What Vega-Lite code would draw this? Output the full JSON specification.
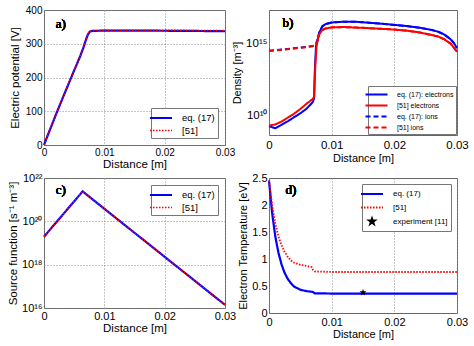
{
  "$schema": "https://vega.github.io/schema/vega-lite/v6.json",
  "background": "white",
  "padding": {"left": 6, "top": 4, "right": 0, "bottom": 0},
  "datasets": {
    "potential": [
      {"x": 0, "v": 0, "s": "eq. (17)"},
      {"x": 0.001, "v": 46, "s": "eq. (17)"},
      {"x": 0.002, "v": 91, "s": "eq. (17)"},
      {"x": 0.003, "v": 135, "s": "eq. (17)"},
      {"x": 0.004, "v": 178, "s": "eq. (17)"},
      {"x": 0.005, "v": 221, "s": "eq. (17)"},
      {"x": 0.006, "v": 263, "s": "eq. (17)"},
      {"x": 0.0065, "v": 287, "s": "eq. (17)"},
      {"x": 0.007, "v": 314, "s": "eq. (17)"},
      {"x": 0.0073, "v": 328, "s": "eq. (17)"},
      {"x": 0.0076, "v": 336, "s": "eq. (17)"},
      {"x": 0.008, "v": 338, "s": "eq. (17)"},
      {"x": 0.01, "v": 339, "s": "eq. (17)"},
      {"x": 0.015, "v": 339, "s": "eq. (17)"},
      {"x": 0.02, "v": 338.5, "s": "eq. (17)"},
      {"x": 0.025, "v": 338, "s": "eq. (17)"},
      {"x": 0.03, "v": 337, "s": "eq. (17)"},
      {"x": 0, "v": 0, "s": "[51]"},
      {"x": 0.001, "v": 47, "s": "[51]"},
      {"x": 0.002, "v": 92, "s": "[51]"},
      {"x": 0.003, "v": 136, "s": "[51]"},
      {"x": 0.004, "v": 179, "s": "[51]"},
      {"x": 0.005, "v": 222, "s": "[51]"},
      {"x": 0.006, "v": 264, "s": "[51]"},
      {"x": 0.0065, "v": 289, "s": "[51]"},
      {"x": 0.007, "v": 316, "s": "[51]"},
      {"x": 0.0073, "v": 330, "s": "[51]"},
      {"x": 0.0076, "v": 337, "s": "[51]"},
      {"x": 0.008, "v": 339, "s": "[51]"},
      {"x": 0.01, "v": 340, "s": "[51]"},
      {"x": 0.02, "v": 340, "s": "[51]"},
      {"x": 0.03, "v": 339, "s": "[51]"}
    ],
    "density": [
      {"x": 0, "n": 2.95e14, "s": "eq. (17): ions"},
      {"x": 0.002, "n": 3.55e14, "s": "eq. (17): ions"},
      {"x": 0.004, "n": 4.37e14, "s": "eq. (17): ions"},
      {"x": 0.006, "n": 5.37e14, "s": "eq. (17): ions"},
      {"x": 0.007, "n": 6.31e14, "s": "eq. (17): ions"},
      {"x": 0.0073, "n": 7.08e14, "s": "eq. (17): ions"},
      {"x": 0.0075, "n": 8.9e14, "s": "eq. (17): ions"},
      {"x": 0.0078, "n": 2.0e15, "s": "eq. (17): ions"},
      {"x": 0.008, "n": 5.0e15, "s": "eq. (17): ions"},
      {"x": 0.0085, "n": 1.41e16, "s": "eq. (17): ions"},
      {"x": 0.009, "n": 2.0e16, "s": "eq. (17): ions"},
      {"x": 0.01, "n": 2.63e16, "s": "eq. (17): ions"},
      {"x": 0.012, "n": 2.95e16, "s": "eq. (17): ions"},
      {"x": 0.014, "n": 2.88e16, "s": "eq. (17): ions"},
      {"x": 0.016, "n": 2.51e16, "s": "eq. (17): ions"},
      {"x": 0.018, "n": 2.14e16, "s": "eq. (17): ions"},
      {"x": 0.02, "n": 1.78e16, "s": "eq. (17): ions"},
      {"x": 0.022, "n": 1.48e16, "s": "eq. (17): ions"},
      {"x": 0.024, "n": 1.15e16, "s": "eq. (17): ions"},
      {"x": 0.026, "n": 7.9e15, "s": "eq. (17): ions"},
      {"x": 0.027, "n": 6.0e15, "s": "eq. (17): ions"},
      {"x": 0.028, "n": 3.8e15, "s": "eq. (17): ions"},
      {"x": 0.029, "n": 1.78e15, "s": "eq. (17): ions"},
      {"x": 0.0295, "n": 1.0e15, "s": "eq. (17): ions"},
      {"x": 0.03, "n": 4.5e14, "s": "eq. (17): ions"},
      {"x": 0, "n": 2.82e14, "s": "[51] ions"},
      {"x": 0.002, "n": 3.39e14, "s": "[51] ions"},
      {"x": 0.004, "n": 4.17e14, "s": "[51] ions"},
      {"x": 0.006, "n": 5.25e14, "s": "[51] ions"},
      {"x": 0.007, "n": 6.17e14, "s": "[51] ions"},
      {"x": 0.0073, "n": 6.76e14, "s": "[51] ions"},
      {"x": 0.0076, "n": 7.94e14, "s": "[51] ions"},
      {"x": 0.008, "n": 4.0e15, "s": "[51] ions"},
      {"x": 0.0085, "n": 7.9e15, "s": "[51] ions"},
      {"x": 0.009, "n": 1.0e16, "s": "[51] ions"},
      {"x": 0.01, "n": 1.2e16, "s": "[51] ions"},
      {"x": 0.012, "n": 1.26e16, "s": "[51] ions"},
      {"x": 0.015, "n": 1.12e16, "s": "[51] ions"},
      {"x": 0.018, "n": 9.5e15, "s": "[51] ions"},
      {"x": 0.02, "n": 8.5e15, "s": "[51] ions"},
      {"x": 0.022, "n": 7.1e15, "s": "[51] ions"},
      {"x": 0.024, "n": 5.4e15, "s": "[51] ions"},
      {"x": 0.026, "n": 3.55e15, "s": "[51] ions"},
      {"x": 0.027, "n": 2.8e15, "s": "[51] ions"},
      {"x": 0.028, "n": 1.78e15, "s": "[51] ions"},
      {"x": 0.029, "n": 8.9e14, "s": "[51] ions"},
      {"x": 0.03, "n": 2.5e14, "s": "[51] ions"},
      {"x": 0, "n": 1.82e9, "s": "eq. (17): electrons"},
      {"x": 0.001, "n": 1.32e9, "s": "eq. (17): electrons"},
      {"x": 0.002, "n": 2.24e9, "s": "eq. (17): electrons"},
      {"x": 0.003, "n": 3.98e9, "s": "eq. (17): electrons"},
      {"x": 0.004, "n": 7.6e9, "s": "eq. (17): electrons"},
      {"x": 0.005, "n": 1.41e10, "s": "eq. (17): electrons"},
      {"x": 0.006, "n": 2.95e10, "s": "eq. (17): electrons"},
      {"x": 0.007, "n": 8.5e10, "s": "eq. (17): electrons"},
      {"x": 0.0072, "n": 1.58e11, "s": "eq. (17): electrons"},
      {"x": 0.0073, "n": 1.0e13, "s": "eq. (17): electrons"},
      {"x": 0.0075, "n": 6.3e14, "s": "eq. (17): electrons"},
      {"x": 0.0078, "n": 2.0e15, "s": "eq. (17): electrons"},
      {"x": 0.008, "n": 5.0e15, "s": "eq. (17): electrons"},
      {"x": 0.0085, "n": 1.41e16, "s": "eq. (17): electrons"},
      {"x": 0.009, "n": 2.0e16, "s": "eq. (17): electrons"},
      {"x": 0.01, "n": 2.63e16, "s": "eq. (17): electrons"},
      {"x": 0.012, "n": 2.95e16, "s": "eq. (17): electrons"},
      {"x": 0.014, "n": 2.88e16, "s": "eq. (17): electrons"},
      {"x": 0.016, "n": 2.51e16, "s": "eq. (17): electrons"},
      {"x": 0.018, "n": 2.14e16, "s": "eq. (17): electrons"},
      {"x": 0.02, "n": 1.78e16, "s": "eq. (17): electrons"},
      {"x": 0.022, "n": 1.48e16, "s": "eq. (17): electrons"},
      {"x": 0.024, "n": 1.15e16, "s": "eq. (17): electrons"},
      {"x": 0.026, "n": 7.9e15, "s": "eq. (17): electrons"},
      {"x": 0.027, "n": 6.0e15, "s": "eq. (17): electrons"},
      {"x": 0.028, "n": 3.8e15, "s": "eq. (17): electrons"},
      {"x": 0.029, "n": 1.78e15, "s": "eq. (17): electrons"},
      {"x": 0.0295, "n": 1.0e15, "s": "eq. (17): electrons"},
      {"x": 0.03, "n": 4.5e14, "s": "eq. (17): electrons"},
      {"x": 0, "n": 2.0e9, "s": "[51] electrons"},
      {"x": 0.001, "n": 2.4e9, "s": "[51] electrons"},
      {"x": 0.002, "n": 3.8e9, "s": "[51] electrons"},
      {"x": 0.003, "n": 7.1e9, "s": "[51] electrons"},
      {"x": 0.004, "n": 1.32e10, "s": "[51] electrons"},
      {"x": 0.005, "n": 2.82e10, "s": "[51] electrons"},
      {"x": 0.006, "n": 6.5e10, "s": "[51] electrons"},
      {"x": 0.007, "n": 1.41e11, "s": "[51] electrons"},
      {"x": 0.0072, "n": 2.0e11, "s": "[51] electrons"},
      {"x": 0.0074, "n": 3.2e13, "s": "[51] electrons"},
      {"x": 0.0076, "n": 7.9e14, "s": "[51] electrons"},
      {"x": 0.008, "n": 4.0e15, "s": "[51] electrons"},
      {"x": 0.0085, "n": 7.9e15, "s": "[51] electrons"},
      {"x": 0.009, "n": 1.0e16, "s": "[51] electrons"},
      {"x": 0.01, "n": 1.2e16, "s": "[51] electrons"},
      {"x": 0.012, "n": 1.26e16, "s": "[51] electrons"},
      {"x": 0.015, "n": 1.12e16, "s": "[51] electrons"},
      {"x": 0.018, "n": 9.5e15, "s": "[51] electrons"},
      {"x": 0.02, "n": 8.5e15, "s": "[51] electrons"},
      {"x": 0.022, "n": 7.1e15, "s": "[51] electrons"},
      {"x": 0.024, "n": 5.4e15, "s": "[51] electrons"},
      {"x": 0.026, "n": 3.55e15, "s": "[51] electrons"},
      {"x": 0.027, "n": 2.8e15, "s": "[51] electrons"},
      {"x": 0.028, "n": 1.78e15, "s": "[51] electrons"},
      {"x": 0.029, "n": 8.9e14, "s": "[51] electrons"},
      {"x": 0.03, "n": 2.5e14, "s": "[51] electrons"}
    ],
    "source": [
      {"x": 0, "q": 1.95e19, "s": "eq. (17)"},
      {"x": 0.0064, "q": 2.4e21, "s": "eq. (17)"},
      {"x": 0.01, "q": 3.8e20, "s": "eq. (17)"},
      {"x": 0.02, "q": 2.3e18, "s": "eq. (17)"},
      {"x": 0.03, "q": 1.4e16, "s": "eq. (17)"},
      {"x": 0, "q": 1.95e19, "s": "[51]"},
      {"x": 0.0064, "q": 2.4e21, "s": "[51]"},
      {"x": 0.01, "q": 3.8e20, "s": "[51]"},
      {"x": 0.02, "q": 2.3e18, "s": "[51]"},
      {"x": 0.03, "q": 1.4e16, "s": "[51]"}
    ],
    "temperature": [
      {"x": 0, "t": 2.45, "s": "eq. (17)"},
      {"x": 0.0005, "t": 1.85, "s": "eq. (17)"},
      {"x": 0.001, "t": 1.42, "s": "eq. (17)"},
      {"x": 0.0015, "t": 1.12, "s": "eq. (17)"},
      {"x": 0.002, "t": 0.9, "s": "eq. (17)"},
      {"x": 0.0025, "t": 0.74, "s": "eq. (17)"},
      {"x": 0.003, "t": 0.63, "s": "eq. (17)"},
      {"x": 0.0035, "t": 0.55, "s": "eq. (17)"},
      {"x": 0.004, "t": 0.49, "s": "eq. (17)"},
      {"x": 0.005, "t": 0.43, "s": "eq. (17)"},
      {"x": 0.006, "t": 0.405, "s": "eq. (17)"},
      {"x": 0.007, "t": 0.39, "s": "eq. (17)"},
      {"x": 0.0073, "t": 0.365, "s": "eq. (17)"},
      {"x": 0.01, "t": 0.36, "s": "eq. (17)"},
      {"x": 0.02, "t": 0.36, "s": "eq. (17)"},
      {"x": 0.03, "t": 0.36, "s": "eq. (17)"},
      {"x": 0, "t": 2.45, "s": "[51]"},
      {"x": 0.0005, "t": 2.0, "s": "[51]"},
      {"x": 0.001, "t": 1.66, "s": "[51]"},
      {"x": 0.0015, "t": 1.42, "s": "[51]"},
      {"x": 0.002, "t": 1.25, "s": "[51]"},
      {"x": 0.0025, "t": 1.13, "s": "[51]"},
      {"x": 0.003, "t": 1.04, "s": "[51]"},
      {"x": 0.0035, "t": 0.97, "s": "[51]"},
      {"x": 0.004, "t": 0.93, "s": "[51]"},
      {"x": 0.005, "t": 0.89, "s": "[51]"},
      {"x": 0.006, "t": 0.87, "s": "[51]"},
      {"x": 0.0068, "t": 0.85, "s": "[51]"},
      {"x": 0.007, "t": 0.8, "s": "[51]"},
      {"x": 0.0073, "t": 0.77, "s": "[51]"},
      {"x": 0.01, "t": 0.76, "s": "[51]"},
      {"x": 0.02, "t": 0.76, "s": "[51]"},
      {"x": 0.03, "t": 0.76, "s": "[51]"}
    ],
    "experiment": [
      {"x": 0.015, "t": 0.38, "s": "experiment [11]"}
    ]
  },
  "columns": 2,
  "bounds": "flush",
  "align": "each",
  "spacing": {"row": 33, "column": 44},
  "resolve": {
    "scale": {"x": "independent", "y": "independent", "color": "independent", "strokeDash": "independent", "strokeWidth": "independent", "shape": "independent"},
    "legend": {"color": "independent", "strokeDash": "independent", "shape": "independent"}
  },
  "concat": [
    {
      "width": 181,
      "height": 135,
      "layer": [
        {
          "data": {"name": "potential"},
          "mark": {"type": "line"},
          "encoding": {
            "x": {"field": "x", "type": "quantitative", "scale": {"domain": [0, 0.03], "nice": false},
                  "axis": {"values": [0, 0.01, 0.02, 0.03], "format": "~g", "labelOverlap": false, "title": "Distance [m]", "labelFontSize": 10, "titleFontSize": 11.5, "titlePadding": 1}},
            "y": {"field": "v", "type": "quantitative", "scale": {"domain": [0, 400], "nice": false},
                  "axis": {"tickCount": 5, "labelOverlap": false, "title": "Electric potential [V]", "labelFontSize": 10, "titleFontSize": 11.5, "titlePadding": 5}},
            "color": {"field": "s", "type": "nominal", "scale": {"domain": ["eq. (17)", "[51]"], "range": ["#0000ff", "#ff0000"]},
                      "legend": {"title": null, "orient": "bottom-right", "offset": 7, "labelFontSize": 9.5, "rowPadding": 1}},
            "strokeDash": {"field": "s", "type": "nominal", "scale": {"domain": ["eq. (17)", "[51]"], "range": [[1, 0], [1.5, 1.5]]},
                      "legend": {"title": null, "orient": "bottom-right", "offset": 7, "labelFontSize": 9.5, "rowPadding": 1}},
            "strokeWidth": {"field": "s", "type": "nominal", "scale": {"domain": ["eq. (17)", "[51]"], "range": [2.2, 1.5]}, "legend": null}
          }
        },
        {
          "mark": {"type": "text", "font": "Liberation Serif", "fontSize": 13, "fontWeight": "normal", "align": "center", "baseline": "middle"},
          "encoding": {"x": {"datum": 0.0028}, "y": {"datum": 360}, "text": {"value": "a)"}}
        }
      ]
    },
    {
      "width": 188,
      "height": 125,
      "layer": [
        {
          "data": {"name": "density"},
          "mark": {"type": "line"},
          "encoding": {
            "x": {"field": "x", "type": "quantitative", "scale": {"domain": [0, 0.03], "nice": false},
                  "axis": {"values": [0, 0.01, 0.02, 0.03], "format": "~g", "labelOverlap": false, "title": "Distance [m]", "labelFontSize": 11.5, "titleFontSize": 11, "titlePadding": 2, "labelPadding": 4}},
            "y": {"field": "n", "type": "quantitative", "scale": {"type": "log", "domain": [4.5e8, 1.9e17], "nice": false},
                  "axis": {"values": [1e10, 1e15], "grid": false, "labelOverlap": false, "labelExpr": "datum.value > 1e12 ? '10¹⁵' : '10¹⁰'", "title": "Density [m⁻³]", "labelFontSize": 11.5, "titleFontSize": 11, "titlePadding": 3}},
            "color": {"field": "s", "type": "nominal",
                      "scale": {"domain": ["eq. (17): electrons", "[51] electrons", "eq. (17): ions", "[51] ions"], "range": ["#0000ff", "#ff0000", "#0000ff", "#ff0000"]},
                      "legend": {"title": null, "orient": "bottom-right", "offset": 1, "labelFontSize": 7, "rowPadding": 0, "padding": 2}},
            "strokeDash": {"field": "s", "type": "nominal",
                      "scale": {"domain": ["eq. (17): electrons", "[51] electrons", "eq. (17): ions", "[51] ions"], "range": [[1, 0], [1, 0], [5, 3], [5, 3]]},
                      "legend": {"title": null, "orient": "bottom-right", "offset": 1, "labelFontSize": 7, "rowPadding": 0, "padding": 2}}
          }
        },
        {
          "mark": {"type": "text", "font": "Liberation Serif", "fontSize": 13, "fontWeight": "normal", "align": "center", "baseline": "middle"},
          "encoding": {"x": {"datum": 0.003}, "y": {"datum": 2.4e16}, "text": {"value": "b)"}}
        }
      ]
    },
    {
      "width": 181,
      "height": 130,
      "layer": [
        {
          "data": {"name": "source"},
          "mark": {"type": "line"},
          "encoding": {
            "x": {"field": "x", "type": "quantitative", "scale": {"domain": [0, 0.03], "nice": false},
                  "axis": {"values": [0, 0.01, 0.02, 0.03], "format": "~g", "labelOverlap": false, "title": "Distance [m]", "labelFontSize": 11, "titleFontSize": 11.5, "titlePadding": 1}},
            "y": {"field": "q", "type": "quantitative", "scale": {"type": "log", "domain": [1e16, 1e22], "nice": false},
                  "axis": {"values": [1e16, 1e18, 1e20, 1e22], "labelOverlap": false, "labelExpr": "datum.value > 1e21 ? '10²²' : datum.value > 1e19 ? '10²⁰' : datum.value > 1e17 ? '10¹⁸' : '10¹⁶'", "title": "Source function [s⁻¹ m⁻³]", "labelFontSize": 11, "titleFontSize": 11.5, "titlePadding": 3}},
            "color": {"field": "s", "type": "nominal", "scale": {"domain": ["eq. (17)", "[51]"], "range": ["#0000ff", "#ff0000"]},
                      "legend": {"title": null, "orient": "top-right", "offset": 7, "labelFontSize": 9.5, "rowPadding": 1}},
            "strokeDash": {"field": "s", "type": "nominal", "scale": {"domain": ["eq. (17)", "[51]"], "range": [[1, 0], [1.5, 1.5]]},
                      "legend": {"title": null, "orient": "top-right", "offset": 7, "labelFontSize": 9.5, "rowPadding": 1}},
            "strokeWidth": {"field": "s", "type": "nominal", "scale": {"domain": ["eq. (17)", "[51]"], "range": [2.2, 1.5]}, "legend": null}
          }
        },
        {
          "mark": {"type": "text", "font": "Liberation Serif", "fontSize": 13, "fontWeight": "normal", "align": "center", "baseline": "middle"},
          "encoding": {"x": {"datum": 0.0028}, "y": {"datum": 2.8e21}, "text": {"value": "c)"}}
        }
      ]
    },
    {
      "width": 188,
      "height": 135,
      "layer": [
        {
          "data": {"name": "temperature"},
          "mark": {"type": "line"},
          "encoding": {
            "x": {"field": "x", "type": "quantitative", "scale": {"domain": [0, 0.03], "nice": false},
                  "axis": {"values": [0, 0.01, 0.02, 0.03], "format": "~g", "labelOverlap": false, "title": "Distance [m]", "labelFontSize": 11, "titleFontSize": 11, "titlePadding": 1, "labelPadding": 3}},
            "y": {"field": "t", "type": "quantitative", "scale": {"domain": [0, 2.5], "nice": false},
                  "axis": {"values": [0, 0.5, 1, 1.5, 2, 2.5], "grid": false, "labelOverlap": false, "format": "~g", "title": "Electron Temperature [eV]", "labelFontSize": 11, "titleFontSize": 11, "titlePadding": 3}},
            "color": {"field": "s", "type": "nominal", "scale": {"domain": ["eq. (17)", "[51]", "experiment [11]"], "range": ["#0000ff", "#ff0000", "#000000"]},
                      "legend": {"title": null, "orient": "top-right", "offset": 6, "labelFontSize": 8, "rowPadding": 2,
                                 "encode": {"symbols": {"update": {"fill": {"signal": "datum.value === 'experiment [11]' ? '#000000' : 'transparent'"}, "strokeWidth": {"signal": "datum.value === 'experiment [11]' ? 0.5 : 2"}}}}}},
            "strokeDash": {"field": "s", "type": "nominal", "scale": {"domain": ["eq. (17)", "[51]", "experiment [11]"], "range": [[1, 0], [1.5, 1.5], [1, 0]]},
                      "legend": {"title": null, "orient": "top-right", "offset": 6, "labelFontSize": 8, "rowPadding": 2}},
            "strokeWidth": {"field": "s", "type": "nominal", "scale": {"domain": ["eq. (17)", "[51]", "experiment [11]"], "range": [2.2, 1.5, 0.5]}, "legend": null}
          }
        },
        {
          "data": {"name": "experiment"},
          "mark": {"type": "point", "filled": true, "size": 121, "opacity": 1},
          "encoding": {
            "x": {"field": "x", "type": "quantitative",
                  "axis": {"values": [0, 0.01, 0.02, 0.03], "format": "~g", "labelOverlap": false, "title": "Distance [m]", "labelFontSize": 11, "titleFontSize": 11, "titlePadding": 1, "labelPadding": 3}},
            "y": {"field": "t", "type": "quantitative",
                  "axis": {"values": [0, 0.5, 1, 1.5, 2, 2.5], "grid": false, "labelOverlap": false, "format": "~g", "title": "Electron Temperature [eV]", "labelFontSize": 11, "titleFontSize": 11, "titlePadding": 3}},
            "color": {"field": "s", "type": "nominal"},
            "shape": {"field": "s", "type": "nominal",
                      "scale": {"domain": ["eq. (17)", "[51]", "experiment [11]"], "range": ["M-2,0L2,0", "M-2,0L2,0", "M0,-0.67L0.15,-0.207L0.637,-0.207L0.243,0.079L0.394,0.542L0,0.256L-0.394,0.542L-0.243,0.079L-0.637,-0.207L-0.15,-0.207Z"]},
                      "legend": {"title": null, "orient": "top-right", "offset": 6, "labelFontSize": 8, "rowPadding": 2}}
          }
        },
        {
          "mark": {"type": "text", "font": "Liberation Serif", "fontSize": 13, "fontWeight": "normal", "align": "center", "baseline": "middle"},
          "encoding": {
            "x": {"datum": 0.0035,
                  "axis": {"values": [0, 0.01, 0.02, 0.03], "format": "~g", "labelOverlap": false, "title": "Distance [m]", "labelFontSize": 11, "titleFontSize": 11, "titlePadding": 1, "labelPadding": 3}},
            "y": {"datum": 2.28,
                  "axis": {"values": [0, 0.5, 1, 1.5, 2, 2.5], "grid": false, "labelOverlap": false, "format": "~g", "title": "Electron Temperature [eV]", "labelFontSize": 11, "titleFontSize": 11, "titlePadding": 3}},
            "text": {"value": "d)"}
          }
        }
      ]
    }
  ],
  "config": {
    "view": {"stroke": "#666666", "strokeWidth": 1},
    "axis": {
      "domain": false,
      "ticks": false,
      "grid": true,
      "gridDash": [1, 2],
      "gridColor": "#888888",
      "gridOpacity": 1,
      "labelFont": "Liberation Sans",
      "titleFont": "Liberation Sans",
      "labelColor": "#000000",
      "titleColor": "#000000",
      "titleFontWeight": "normal",
      "labelFlush": false,
      "labelOverlap": false,
      "labelPadding": 2
    },
    "legend": {
      "labelFont": "Liberation Sans",
      "labelColor": "#000000",
      "strokeColor": "#777777",
      "fillColor": "#ffffff",
      "padding": 3,
      "symbolType": "M-2,0L2,0",
      "symbolSize": 121,
      "symbolStrokeWidth": 2,
      "labelOffset": 14
    }
  }
}
